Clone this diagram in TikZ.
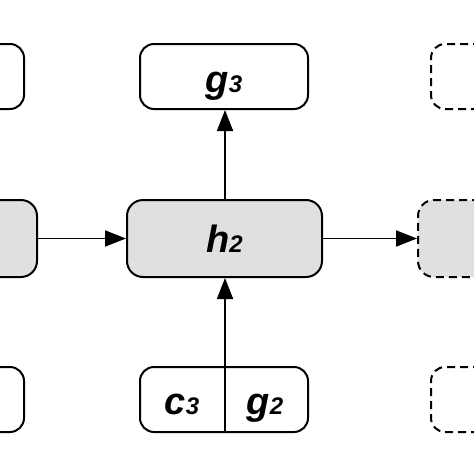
\documentclass[tikz,border=0pt]{standalone}
\usepackage{fontspec}
\setmainfont{Liberation Sans}
\usetikzlibrary{arrows.meta}
\definecolor{boxgrey}{HTML}{E0E0E0}
\newcommand{\lbl}[2]{\textbf{\textit{#1}{\fontsize{24}{24}\selectfont\textit{#2}}}}
\tikzset{
  box/.style={draw=black, line width=2pt, rounded corners=14pt, inner sep=0pt, font=\fontsize{38}{38}\selectfont},
  smallbox/.style={box, minimum width=168pt, minimum height=65pt, text height=31pt, text depth=0pt},
  bigbox/.style={box, fill=boxgrey, minimum width=195pt, minimum height=77pt, rounded corners=16pt, text height=27pt, text depth=0pt},
  ghost/.style={dashed, dash pattern=on 8pt off 5pt},
  lbltext/.style={font=\fontsize{38}{38}\selectfont, inner sep=0pt, anchor=base},
  conn/.style={line width=1.8pt, -{Triangle[length=21pt,width=16pt]}}
}
\begin{document}
\begin{tikzpicture}[x=1pt,y=-1pt]
\useasboundingbox (0,0) rectangle (474,474);
\clip (0,0) rectangle (474,474);
% top row
\node[smallbox] (tl) at (-60,76.5) {};
\node[smallbox] (tc) at (224,76.5) {\lbl{g}{3}};
\node[smallbox, ghost] (tr) at (515,76.5) {};
% middle row
\node[bigbox] (ml) at (-60.5,238.5) {};
\node[bigbox] (mc) at (224.5,238.5) {\lbl{h}{2}};
\node[bigbox, ghost] (mr) at (515.5,238.5) {};
% bottom row
\node[smallbox] (bl) at (-60,399.5) {};
\node[smallbox] (bc) at (224,399.5) {};
\node[smallbox, ghost] (br) at (515,399.5) {};
\coordinate (bdivtop) at (225,367);
\coordinate (bdivbot) at (225,432);
\draw[line width=1.6pt] (bdivtop) -- (bdivbot);
\node[lbltext] (c3) at (182,414.5) {\lbl{c}{3}};
\node[lbltext] (g2) at (265,414.5) {\lbl{g}{2}};
% connectors
\draw[conn] (ml.east) -- (mc.west);
\draw[conn] (mc.east) -- (mr.west);
\draw[conn] (bdivtop) -- (bdivtop |- mc.south);
\draw[conn] (mc.north -| bdivtop) -- (bdivtop |- tc.south);
\end{tikzpicture}
\end{document}
